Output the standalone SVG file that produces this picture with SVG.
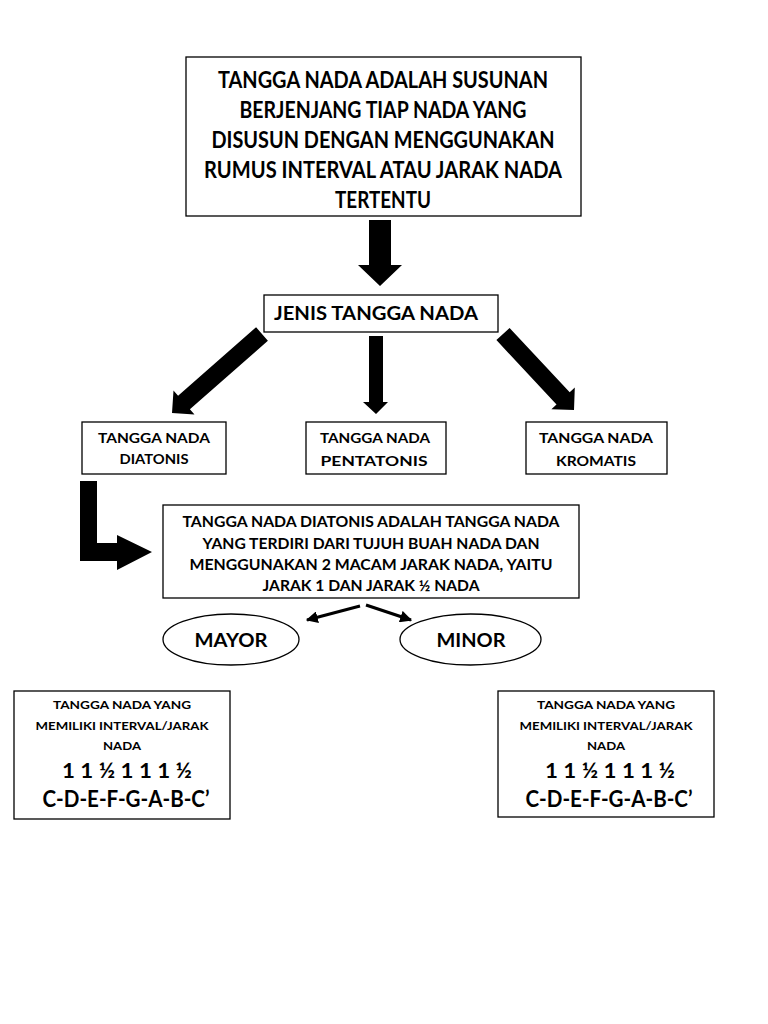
<svg xmlns="http://www.w3.org/2000/svg" width="768" height="1024" viewBox="0 0 768 1024">
<defs>
<style>
.box{fill:#fff;stroke:#000;stroke-width:1.3}
.t{font-family:Lato,"Liberation Sans",sans-serif;font-weight:bold;fill:#000;text-anchor:middle}
.blk{fill:#000;stroke:none}
.thin{stroke:#000;stroke-width:3;fill:none}
</style>
<marker id="ah" viewBox="0 0 10 10" refX="9" refY="5" markerWidth="4" markerHeight="4" orient="auto" markerUnits="strokeWidth">
<path d="M0,0 L10,5 L0,10 z" fill="#000"/>
</marker>
</defs>
<rect width="768" height="1024" fill="#fff"/>

<g id="connectors">
<polygon class="blk" points="369,220 391,220 391,265 402,265 380,286 358,265 369,265"/>
<polygon class="blk" points="256.1,327.2 267.9,340.8 189.9,409.3 194.5,414.5 172,413 173.5,390.5 178.1,395.7"/>
<polygon class="blk" points="369,336 383,336 383,402 388,402 376,414 363,402 369,402"/>
<polygon class="blk" points="509.6,327.9 496.4,340.1 556.5,404.4 551.4,409.2 574,410 574.8,387.4 569.7,392.2"/>
<polygon class="blk" points="80,481 97,481 97,543 117,543 117,535 152,552 117,570 117,561 80,561"/>
<line class="thin" x1="360" y1="606" x2="307" y2="620" marker-end="url(#ah)"/>
<line class="thin" x1="366" y1="605" x2="411" y2="620" marker-end="url(#ah)"/>
</g>

<g id="definisi">
<rect class="box" x="186" y="57" width="395" height="159"/>
<text class="t" font-size="22" x="383" y="88" textLength="330" lengthAdjust="spacingAndGlyphs">TANGGA NADA ADALAH SUSUNAN</text>
<text class="t" font-size="22" x="383" y="118" textLength="287" lengthAdjust="spacingAndGlyphs">BERJENJANG TIAP NADA YANG</text>
<text class="t" font-size="22" x="383" y="148" textLength="343" lengthAdjust="spacingAndGlyphs">DISUSUN DENGAN MENGGUNAKAN</text>
<text class="t" font-size="22" x="383" y="178" textLength="358" lengthAdjust="spacingAndGlyphs">RUMUS INTERVAL ATAU JARAK NADA</text>
<text class="t" font-size="22" x="383" y="208" textLength="96" lengthAdjust="spacingAndGlyphs">TERTENTU</text>
</g>

<g id="jenis">
<rect class="box" x="264" y="295" width="234" height="37"/>
<text class="t" font-size="18" x="274" y="320" text-anchor="start" style="text-anchor:start" textLength="204" lengthAdjust="spacingAndGlyphs">JENIS TANGGA NADA</text>
</g>

<g id="diatonis">
<rect class="box" x="82" y="422" width="144" height="52"/>
<text class="t" font-size="14" x="154" y="443" textLength="112" lengthAdjust="spacingAndGlyphs">TANGGA NADA</text>
<text class="t" font-size="14" x="154" y="464" textLength="69" lengthAdjust="spacingAndGlyphs">DIATONIS</text>
</g>

<g id="pentatonis">
<rect class="box" x="306" y="422" width="140" height="52"/>
<text class="t" font-size="14" x="375" y="443" textLength="110" lengthAdjust="spacingAndGlyphs">TANGGA NADA</text>
<text class="t" font-size="14" x="374" y="466" textLength="107" lengthAdjust="spacingAndGlyphs">PENTATONIS</text>
</g>

<g id="kromatis">
<rect class="box" x="526" y="422" width="141" height="52"/>
<text class="t" font-size="14" x="596" y="443" textLength="114" lengthAdjust="spacingAndGlyphs">TANGGA NADA</text>
<text class="t" font-size="14" x="596" y="466" textLength="80" lengthAdjust="spacingAndGlyphs">KROMATIS</text>
</g>

<g id="penjelasan-diatonis">
<rect class="box" x="163" y="505" width="416" height="93"/>
<text class="t" font-size="15" x="371" y="527" textLength="377" lengthAdjust="spacingAndGlyphs">TANGGA NADA DIATONIS ADALAH TANGGA NADA</text>
<text class="t" font-size="15" x="371" y="548.5" textLength="337" lengthAdjust="spacingAndGlyphs">YANG TERDIRI DARI TUJUH BUAH NADA DAN</text>
<text class="t" font-size="15" x="371" y="570" textLength="363" lengthAdjust="spacingAndGlyphs">MENGGUNAKAN 2 MACAM JARAK NADA, YAITU</text>
<text class="t" font-size="15" x="371" y="591" textLength="217" lengthAdjust="spacingAndGlyphs">JARAK 1 DAN JARAK ½ NADA</text>
</g>

<g id="mayor">
<ellipse class="box" cx="231" cy="639.5" rx="68" ry="25.5"/>
<text class="t" font-size="19" x="231" y="647" textLength="73" lengthAdjust="spacingAndGlyphs">MAYOR</text>
</g>

<g id="minor">
<ellipse class="box" cx="470.5" cy="639.5" rx="70.5" ry="25.5"/>
<text class="t" font-size="19" x="471" y="647" textLength="69" lengthAdjust="spacingAndGlyphs">MINOR</text>
</g>

<g id="interval-mayor">
<rect class="box" x="14" y="691" width="216" height="128"/>
<text class="t" font-size="12" x="122" y="709" textLength="138" lengthAdjust="spacingAndGlyphs">TANGGA NADA YANG</text>
<text class="t" font-size="12" x="122" y="730" textLength="173" lengthAdjust="spacingAndGlyphs">MEMILIKI INTERVAL/JARAK</text>
<text class="t" font-size="12" x="122" y="750" textLength="38" lengthAdjust="spacingAndGlyphs">NADA</text>
<text class="t" font-size="20" x="127" y="778" textLength="130" lengthAdjust="spacingAndGlyphs">1 1 ½ 1 1 1 ½</text>
<text class="t" font-size="22" x="126" y="807" textLength="167" lengthAdjust="spacingAndGlyphs">C-D-E-F-G-A-B-C’</text>
</g>

<g id="interval-minor">
<rect class="box" x="498" y="691" width="216" height="126"/>
<text class="t" font-size="12" x="606" y="709" textLength="138" lengthAdjust="spacingAndGlyphs">TANGGA NADA YANG</text>
<text class="t" font-size="12" x="606" y="730" textLength="173" lengthAdjust="spacingAndGlyphs">MEMILIKI INTERVAL/JARAK</text>
<text class="t" font-size="12" x="606" y="750" textLength="38" lengthAdjust="spacingAndGlyphs">NADA</text>
<text class="t" font-size="20" x="610" y="778" textLength="130" lengthAdjust="spacingAndGlyphs">1 1 ½ 1 1 1 ½</text>
<text class="t" font-size="22" x="609" y="807" textLength="167" lengthAdjust="spacingAndGlyphs">C-D-E-F-G-A-B-C’</text>
</g>
</svg>
